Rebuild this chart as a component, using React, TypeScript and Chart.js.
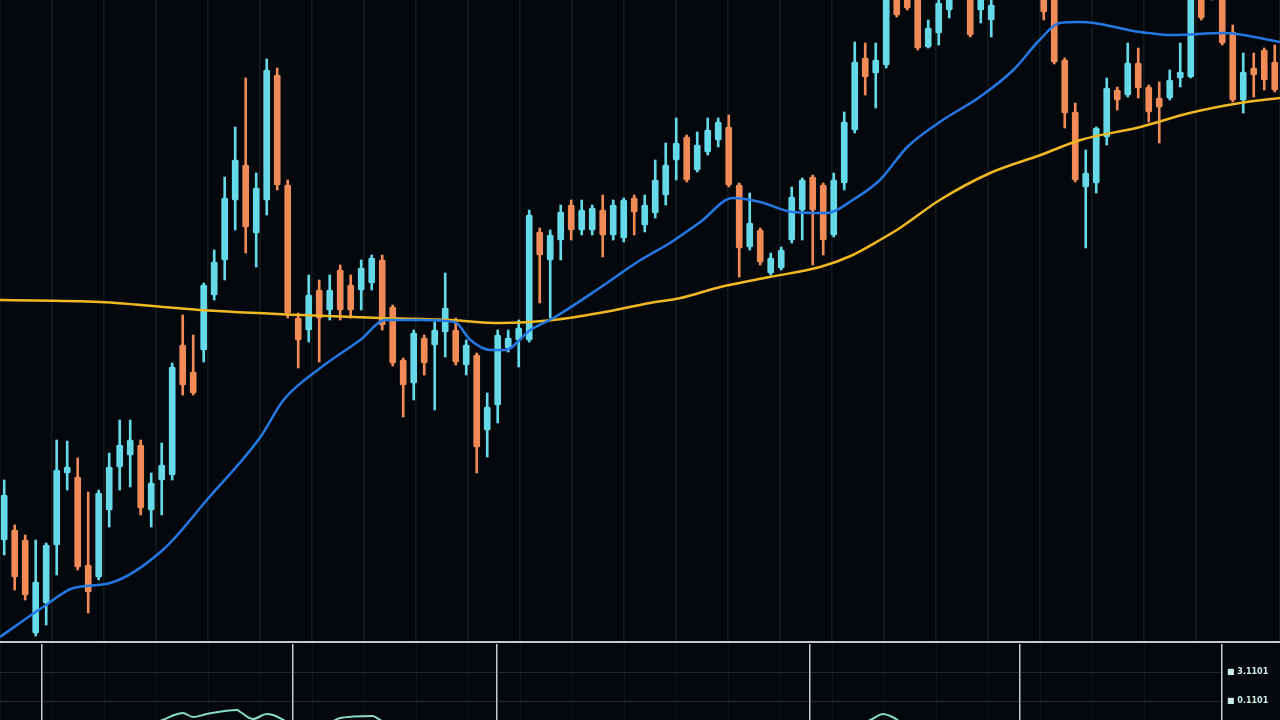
import React, { useEffect, useRef } from "react";
import { Chart, registerables } from "chart.js";

Chart.register(...registerables);

// ---- Candle data (one entry per session, price units) ----
const OPEN = [
  102, 112, 102, 9, 39, 97, 169, 165, 77, 65,
  132, 175, 187, 197, 132, 162, 167, 297, 270, 292,
  347, 382, 442, 477, 409, 442, 567, 457, 324, 312,
  352, 332, 372, 357, 352, 359, 382, 335, 282, 259,
  304, 297, 310, 312, 277, 287, 212, 237, 294, 302,
  302, 410, 382, 402, 437, 412, 412, 432, 407, 404,
  444, 417, 429, 447, 482, 505, 472, 490, 502, 515,
  457, 395, 412, 369, 374, 402, 432, 465, 457, 407,
  459, 512, 584, 569, 577, 662, 652, 652, 595, 609,
  632, 672, 652, 632, 622, 652, 680, 660, 665, 652,
  652, 582, 530, 455, 459, 505, 552, 547, 579, 555,
  544, 544, 564, 565, 652, 647, 652, 610, 542, 574,
  592, 580,
];
const CLOSE = [
  147, 65, 47, 60, 97, 172, 175, 75, 50, 149,
  175, 197, 202, 134, 159, 177, 275, 257, 249, 357,
  380, 444, 482, 415, 454, 572, 457, 329, 302, 347,
  324, 352, 332, 332, 374, 384, 317, 279, 257, 309,
  279, 312, 334, 280, 297, 195, 235, 307, 304, 314,
  427, 387, 407, 430, 412, 432, 434, 407, 437, 442,
  430, 437, 462, 477, 499, 462, 497, 512, 520, 457,
  394, 419, 380, 384, 392, 445, 462, 432, 402, 462,
  520, 580, 565, 582, 662, 627, 634, 594, 614, 639,
  647, 652, 607, 647, 637, 672, 660, 685, 690, 630,
  580, 529, 462, 469, 514, 554, 542, 579, 554, 530,
  535, 562, 570, 652, 624, 667, 599, 542, 570, 567,
  562, 552,
];
const HIGH = [
  162, 117, 107, 102, 99, 202, 201, 184, 150, 152,
  189, 222, 222, 202, 169, 199, 279, 327, 307, 359,
  392, 465, 515, 564, 469, 583, 574, 462, 329, 367,
  362, 367, 377, 367, 382, 387, 387, 337, 284, 312,
  307, 320, 369, 324, 302, 289, 249, 312, 312, 322,
  432, 414, 412, 437, 442, 442, 437, 447, 442, 444,
  447, 447, 482, 499, 524, 507, 510, 524, 524, 527,
  459, 449, 414, 389, 395, 455, 464, 467, 459, 469,
  530, 600, 599, 599, 672, 672, 662, 662, 622, 647,
  652, 682, 657, 652, 647, 682, 690, 695, 700, 662,
  657, 584, 539, 492, 515, 564, 555, 599, 594, 557,
  560, 572, 599, 662, 662, 672, 657, 617, 589, 589,
  594, 597,
];
const LOW = [
  87, 52, 42, 6, 17, 67, 152, 72, 29, 62,
  115, 152, 155, 127, 115, 127, 162, 247, 247, 280,
  342, 362, 412, 389, 375, 427, 452, 324, 274, 300,
  280, 322, 322, 324, 332, 352, 312, 276, 225, 242,
  267, 232, 285, 277, 267, 169, 185, 219, 290, 275,
  300, 339, 324, 382, 402, 407, 407, 385, 402, 400,
  407, 410, 424, 437, 462, 460, 470, 487, 495, 455,
  365, 392, 377, 367, 372, 399, 402, 377, 387, 405,
  452, 509, 547, 534, 574, 625, 632, 592, 594, 597,
  624, 647, 605, 619, 605, 647, 655, 655, 660, 622,
  578, 514, 460, 394, 449, 497, 532, 545, 544, 520,
  499, 542, 555, 564, 622, 642, 597, 540, 529, 545,
  552, 550,
];

// ---- Moving averages: [session index, value] ----
const MA_FAST = [
  [-0.4, 5], [3.7, 35], [6.6, 54], [10.1, 59], [15.1, 92], [19.3, 142],
  [24.4, 205], [26.6, 242], [30.1, 274], [33.9, 302], [36.3, 322], [39.6, 322],
  [42.9, 320], [44.4, 302], [46.3, 292], [47.7, 292], [50.1, 312], [52.3, 324],
  [56.7, 354], [60.6, 382], [63.4, 399], [66.3, 420], [69.4, 444], [72, 440],
  [75.1, 430], [78.4, 429], [80.8, 442], [83.4, 462], [86, 495], [89.1, 520],
  [92.9, 545], [96.1, 572], [98.6, 602], [100.5, 619], [102.5, 620], [108.2, 610],
  [111.3, 607], [116.1, 609], [121.5, 600],
];
const MA_SLOW = [
  [-0.4, 342], [9.1, 340], [18.7, 332], [28.2, 327], [35.8, 324], [42.5, 322],
  [47.2, 319], [52.3, 322], [56.7, 329], [61.5, 339], [64.4, 344], [68.2, 355],
  [72.9, 365], [77.7, 375], [80.6, 386], [83.4, 402], [85.3, 414], [89.1, 442],
  [93.9, 469], [98.7, 487], [102.5, 502], [108.2, 515], [112.9, 529], [117.7, 539],
  [121.5, 544],
];

// ---- Lower panel oscillator: [session index, value] ----
const OSC = [
  [-0.4, -25], [8, -20], [12.5, -12], [14.2, -3], [15.1, 0], [16.2, 5], [17, 7],
  [18, 3], [19.3, 6], [22.2, 10], [22.5, 8], [23.7, 1], [25, 6], [25.6, 5],
  [26.6, 0], [28, -8], [30, -10], [31.2, -2], [32, 2], [35.1, 4], [35.8, 0],
  [37.5, -10], [45, -22], [60, -25], [75, -20], [80.5, -10], [82.1, -2],
  [82.7, 1], [83.7, 6], [84.6, 3], [85.1, 0], [86.5, -10], [95, -25], [116, -25],
];
const SESSION_BREAKS = [3.6, 27.5, 46.9, 76.7, 96.7];
const OSC_LEVELS = [19, 48];
const OSC_LABELS = ["\u25A0 0.1101", "\u25A0 3.1101"];

const UP = "#66d9e9";
const DOWN = "#f08a57";
const BG = "#04080c";

export default function App() {
  const mainRef = useRef<HTMLCanvasElement>(null);
  const oscRef = useRef<HTMLCanvasElement>(null);

  useEffect(() => {
    Chart.defaults.font.family = "DejaVu Sans";
    const idx = OPEN.map((_, i) => i);
    const colors = idx.map((i) => (CLOSE[i] >= OPEN[i] ? UP : DOWN));

    const main = new Chart(mainRef.current!, {
      type: "bar",
      data: {
        datasets: [
          {
            type: "line",
            label: "MA fast",
            data: MA_FAST.map(([x, y]) => ({ x, y })),
            borderColor: "#2478e4",
            borderWidth: 2.5,
            pointRadius: 0,
            cubicInterpolationMode: "monotone",
            xAxisID: "x",
            yAxisID: "y",
            order: 0,
          },
          {
            type: "line",
            label: "MA slow",
            data: MA_SLOW.map(([x, y]) => ({ x, y })),
            borderColor: "#f2b822",
            borderWidth: 2.5,
            pointRadius: 0,
            cubicInterpolationMode: "monotone",
            xAxisID: "x",
            yAxisID: "y",
            order: 0,
          },
          {
            type: "bar",
            label: "body",
            data: idx.map((i) => ({ x: i, y: [OPEN[i], CLOSE[i]] })),
            backgroundColor: colors,
            barThickness: 6,
            grouped: false,
            borderWidth: 0,
            borderRadius: 1.5,
            borderSkipped: false,
            xAxisID: "x",
            yAxisID: "y",
            order: 1,
          },
          {
            type: "bar",
            label: "wick",
            data: idx.map((i) => ({ x: i, y: [LOW[i], HIGH[i]] })),
            backgroundColor: colors,
            barThickness: 2,
            grouped: false,
            borderWidth: 0,
            xAxisID: "x",
            yAxisID: "y",
            order: 2,
          },
        ],
      } as any,
      options: {
        responsive: false,
        animation: false,
        devicePixelRatio: 1,
        layout: { padding: 0, autoPadding: false },
        plugins: { legend: { display: false }, tooltip: { enabled: false } },
        scales: {
          x: {
            type: "linear",
            min: -0.4,
            max: 121.5,
            offset: false,
            position: "bottom",
            ticks: { display: false },
            grid: { display: false, drawTicks: false, offset: false },
            border: { display: true, color: "#c6cacd", width: 2 },
            afterFit: (s: any) => { s.height = 2; },
          },
          xg: {
            type: "linear",
            min: 0,
            max: 1280 / 52,
            offset: false,
            position: "bottom",
            ticks: { display: false, stepSize: 1 },
            grid: { color: "rgba(80,90,102,0.22)", lineWidth: 1.5, drawTicks: false, offset: false },
            border: { display: false },
            afterFit: (s: any) => { s.height = 0; },
          },
          y: { display: false, min: 0, max: 642 },
        },
      } as any,
    });

    const osc = new Chart(oscRef.current!, {
      type: "line",
      data: {
        datasets: [
          {
            label: "oscillator",
            data: OSC.map(([x, y]) => ({ x, y })),
            borderColor: "#88dcc2",
            borderWidth: 2,
            pointRadius: 0,
            cubicInterpolationMode: "monotone",
            xAxisID: "x",
            yAxisID: "y",
          },
        ],
      } as any,
      options: {
        responsive: false,
        animation: false,
        devicePixelRatio: 1,
        layout: { padding: 0, autoPadding: false },
        plugins: { legend: { display: false }, tooltip: { enabled: false } },
        scales: {
          x: {
            type: "linear",
            min: -0.4,
            max: 116,
            offset: false,
            position: "bottom",
            ticks: { display: false },
            grid: { color: "#c6cacd", lineWidth: 1.5, drawTicks: false },
            border: { display: false },
            afterBuildTicks: (s: any) => { s.ticks = SESSION_BREAKS.map((v) => ({ value: v })); },
            afterFit: (s: any) => { s.height = 0; },
          },
          xg: {
            type: "linear",
            min: 0,
            max: 1222 / 52,
            offset: false,
            position: "bottom",
            ticks: { display: false, stepSize: 1 },
            grid: { color: "rgba(80,90,102,0.14)", lineWidth: 1, drawTicks: false },
            border: { display: false },
            afterFit: (s: any) => { s.height = 0; },
          },
          y: {
            position: "right",
            min: 0,
            max: 76,
            afterBuildTicks: (s: any) => { s.ticks = OSC_LEVELS.map((v) => ({ value: v })); },
            ticks: {
              padding: 5,
              color: "#cfeee2",
              font: { family: "DejaVu Sans", size: 8, weight: "bold" },
              callback: (_v: any, i: number) => OSC_LABELS[i],
            },
            grid: { color: "rgba(120,130,140,0.28)", lineWidth: 1, drawTicks: false },
            border: { display: true, color: "#c6cacd", width: 1.5 },
            afterFit: (s: any) => {
              s.width = 58;
              s.paddingTop = 0;
              s.paddingBottom = 0;
            },
          },
        },
      } as any,
    });

    return () => {
      main.destroy();
      osc.destroy();
    };
  }, []);

  return (
    <div
      style={{
        position: "fixed",
        left: 0,
        top: 0,
        width: 1280,
        height: 720,
        background: BG,
        overflow: "hidden",
      }}
    >
      <canvas
        ref={mainRef}
        width={1280}
        height={644}
        style={{ position: "absolute", left: 0, top: 0, width: 1280, height: 644 }}
      />
      <canvas
        ref={oscRef}
        width={1280}
        height={76}
        style={{ position: "absolute", left: 0, top: 644, width: 1280, height: 76 }}
      />
    </div>
  );
}
